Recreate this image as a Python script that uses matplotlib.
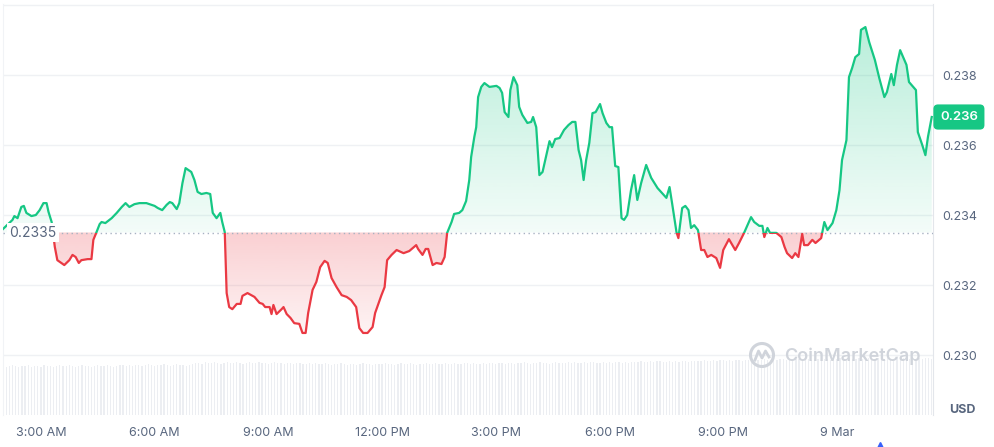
import matplotlib.pyplot as plt
import matplotlib.colors as mcolors
import numpy as np
from matplotlib.lines import Line2D
from matplotlib.patches import Circle, PathPatch, Rectangle
from matplotlib.path import Path
from matplotlib.transforms import IdentityTransform, blended_transform_factory

plt.rcParams['font.family'] = ['Inter', 'DejaVu Sans']

# price, minutes since midnight 8 Mar
minutes = [
    120, 135, 138, 143, 149, 153, 157, 165, 172, 178, 184, 189, 192, 197, 202, 206,
    217, 225, 230, 235, 240, 244, 254, 260, 263, 268, 273, 276, 282, 292, 300, 308,
    314, 320, 328, 336, 347, 355, 360, 365, 372, 379, 384, 388, 395, 399, 404, 409,
    418, 423, 428, 434, 442, 448, 452, 458, 464, 467, 471, 474, 478, 483, 490, 496,
    499, 507, 518, 526, 531, 535, 542, 545, 548, 553, 561, 564, 569, 575, 581, 589,
    594, 599, 603, 610, 616, 622, 629, 634, 640, 648, 656, 664, 671, 679, 684, 690,
    697, 705, 709, 719, 724, 728, 735, 743, 754, 763, 774, 777, 784, 789, 793, 800,
    806, 814, 819, 823, 830, 834, 842, 847, 853, 858, 861, 866, 869, 872, 877, 882,
    890, 901, 906, 910, 914, 920, 923, 928, 934, 937, 942, 950, 956, 959, 964, 969,
    974, 980, 985, 989, 994, 1001, 1008, 1015, 1021, 1026, 1031, 1035, 1039, 1043, 1048, 1053,
    1058, 1065, 1069, 1075, 1080, 1084, 1089, 1094, 1099, 1103, 1108, 1114, 1119, 1124, 1130, 1138,
    1146, 1156, 1163, 1170, 1175, 1179, 1186, 1189, 1195, 1200, 1205, 1209, 1214, 1220, 1225, 1230,
    1235, 1241, 1249, 1255, 1260, 1269, 1279, 1285, 1293, 1304, 1309, 1317, 1322, 1325, 1330, 1334,
    1344, 1352, 1357, 1361, 1369, 1374, 1379, 1385, 1388, 1394, 1401, 1406, 1415, 1420, 1425, 1433,
    1439, 1444, 1448, 1455, 1459, 1464, 1469, 1475, 1478, 1485, 1491, 1500, 1507, 1515, 1519, 1526,
    1530, 1535, 1540, 1550, 1554, 1565, 1568, 1575, 1580, 1584, 1590,
]
prices = [
    0.23360, 0.23386, 0.23397, 0.23391, 0.23423, 0.23426, 0.23406, 0.23397,
    0.23400, 0.23414, 0.23434, 0.23434, 0.23409, 0.23380, 0.23309, 0.23271,
    0.23257, 0.23271, 0.23286, 0.23280, 0.23263, 0.23271, 0.23274, 0.23274,
    0.23329, 0.23351, 0.23374, 0.23380, 0.23377, 0.23391, 0.23406, 0.23423,
    0.23434, 0.23423, 0.23431, 0.23434, 0.23434, 0.23429, 0.23426, 0.23420,
    0.23414, 0.23429, 0.23437, 0.23434, 0.23417, 0.23434, 0.23491, 0.23534,
    0.23523, 0.23500, 0.23466, 0.23460, 0.23463, 0.23460, 0.23406, 0.23391,
    0.23406, 0.23380, 0.23351, 0.23177, 0.23137, 0.23131, 0.23146, 0.23146,
    0.23169, 0.23177, 0.23166, 0.23149, 0.23146, 0.23137, 0.23137, 0.23117,
    0.23143, 0.23117, 0.23131, 0.23137, 0.23117, 0.23106, 0.23091, 0.23089,
    0.23063, 0.23063, 0.23120, 0.23186, 0.23209, 0.23251, 0.23269, 0.23263,
    0.23220, 0.23194, 0.23171, 0.23166, 0.23157, 0.23137, 0.23077, 0.23063,
    0.23063, 0.23080, 0.23120, 0.23171, 0.23194, 0.23271, 0.23286, 0.23300,
    0.23291, 0.23297, 0.23314, 0.23303, 0.23286, 0.23303, 0.23303, 0.23257,
    0.23263, 0.23260, 0.23280, 0.23349, 0.23380, 0.23403, 0.23406, 0.23414,
    0.23440, 0.23500, 0.23566, 0.23623, 0.23651, 0.23737, 0.23766, 0.23777,
    0.23766, 0.23769, 0.23763, 0.23749, 0.23694, 0.23680, 0.23757, 0.23794,
    0.23771, 0.23709, 0.23686, 0.23663, 0.23666, 0.23680, 0.23651, 0.23514,
    0.23523, 0.23571, 0.23611, 0.23594, 0.23617, 0.23620, 0.23643, 0.23657,
    0.23666, 0.23666, 0.23586, 0.23557, 0.23500, 0.23557, 0.23606, 0.23691,
    0.23694, 0.23717, 0.23691, 0.23663, 0.23651, 0.23651, 0.23540, 0.23537,
    0.23391, 0.23386, 0.23400, 0.23471, 0.23514, 0.23443, 0.23491, 0.23543,
    0.23506, 0.23477, 0.23463, 0.23449, 0.23480, 0.23434, 0.23351, 0.23334,
    0.23420, 0.23426, 0.23414, 0.23363, 0.23371, 0.23357, 0.23300, 0.23300,
    0.23280, 0.23286, 0.23277, 0.23249, 0.23300, 0.23331, 0.23300, 0.23320,
    0.23349, 0.23394, 0.23380, 0.23369, 0.23369, 0.23337, 0.23363, 0.23349,
    0.23349, 0.23337, 0.23309, 0.23291, 0.23277, 0.23291, 0.23280, 0.23346,
    0.23314, 0.23314, 0.23329, 0.23320, 0.23334, 0.23380, 0.23357, 0.23377,
    0.23414, 0.23471, 0.23557, 0.23614, 0.23794, 0.23820, 0.23851, 0.23860,
    0.23929, 0.23937, 0.23894, 0.23843, 0.23791, 0.23737, 0.23751, 0.23803,
    0.23771, 0.23829, 0.23871, 0.23829, 0.23780, 0.23757, 0.23637, 0.23600,
    0.23571, 0.23623, 0.23680,
]

# volume bars every 5 minutes starting 120
volumes = [
    49, 48, 49, 50, 49, 48, 49, 49, 50, 48, 49, 49, 48, 50, 49, 49, 48, 49, 50, 49,
    49, 50, 49, 48, 49, 50, 49, 49, 48, 49, 50, 49, 49, 50, 49, 48, 49, 50, 50, 49,
    50, 49, 50, 50, 49, 50, 51, 50, 49, 50, 50, 51, 50, 49, 50, 51, 50, 50, 49, 50,
    51, 52, 52, 51, 53, 52, 52, 53, 52, 51, 52, 53, 52, 52, 53, 52, 51, 52, 53, 52,
    52, 53, 52, 52, 51, 52, 53, 52, 52, 51, 52, 52, 51, 52, 52, 51, 51, 52, 51, 52,
    51, 51, 52, 51, 50, 51, 51, 52, 51, 50, 51, 51, 50, 51, 52, 51, 51, 50, 51, 51,
    51, 52, 51, 51, 50, 51, 52, 51, 51, 52, 51, 50, 51, 51, 52, 51, 51, 52, 51, 51,
    52, 51, 51, 52, 51, 51, 52, 52, 51, 52, 51, 51, 52, 51, 52, 52, 51, 52, 52, 51,
    52, 52, 51, 52, 52, 53, 52, 51, 52, 52, 53, 52, 52, 51, 52, 53, 52, 52, 52, 53,
    52, 53, 52, 52, 53, 52, 53, 53, 52, 52, 53, 52, 53, 52, 53, 53, 52, 53, 52, 53,
    53, 53, 54, 53, 53, 54, 53, 54, 54, 53, 53, 54, 53, 54, 53, 54, 54, 53, 54, 54,
    54, 54, 55, 54, 54, 55, 54, 55, 55, 54, 55, 54, 55, 55, 54, 55, 55, 54, 55, 55,
    55, 56, 55, 55, 56, 55, 56, 56, 55, 56, 55, 56, 56, 55, 56, 56, 55, 56, 56, 55,
    56, 56, 55, 56, 56, 57, 56, 56, 57, 56, 56, 57, 56, 56, 57, 56, 56, 57, 56, 56,
    57, 56, 56, 57, 56, 57, 57, 56, 57, 56, 57, 56, 57, 57, 56,
]
vol_times = np.arange(120, 120 + 5 * len(volumes), 5)

open_price = 0.2335
tick_minutes = [180, 360, 540, 720, 900, 1080, 1260, 1440]
tick_labels = ['3:00 AM', '6:00 AM', '9:00 AM', '12:00 PM', '3:00 PM', '6:00 PM', '9:00 PM', '9 Mar']
price_ticks = [0.230, 0.232, 0.234, 0.236, 0.238, 0.240]
price_labels = ['0.230', '0.232', '0.234', '0.236', '0.238', '']

GREEN = '#16c784'
RED = '#ea3943'
GREY = '#58667e'
X0, X1 = 120, 1592
Y0, Y1 = 0.228286, 0.240029

fig = plt.figure(figsize=(9.94, 4.47), dpi=100)
rect = [3 / 994, 32 / 447, 930 / 994, 411 / 447]
ax = fig.add_axes(rect, zorder=1)
ax_vol = fig.add_axes([rect[0], 32 / 447, rect[2], 60 / 447], zorder=0, sharex=ax)

# volume
ax_vol.bar(vol_times, volumes, width=2.0, color='#eceef2', linewidth=0)
ax_vol.set_ylim(0, 60)
ax_vol.axis('off')

x = np.array(minutes)
y = np.array(prices)


def gradient_fill(where, color, far, a_near, a_far):
    coll = ax.fill_between(x, y, open_price, where=where, interpolate=True,
                           facecolor='none', edgecolor='none')
    path = Path.make_compound_path(*coll.get_paths())
    patch = PathPatch(path, transform=ax.transData, facecolor='none', edgecolor='none')
    ax.add_patch(patch)
    rgba = np.zeros((256, 1, 4))
    rgba[..., :3] = mcolors.to_rgb(color)
    alphas = np.linspace(a_near, a_far, 256)
    lo, hi = sorted([open_price, far])
    rgba[:, 0, 3] = alphas if far > open_price else alphas[::-1]
    im = ax.imshow(rgba, extent=[X0, X1, lo, hi], origin='lower', aspect='auto',
                   zorder=1, interpolation='bilinear')
    im.set_clip_path(patch)


gradient_fill(y >= open_price, GREEN, 0.2394, 0.05, 0.30)
gradient_fill(y <= open_price, RED, 0.2306, 0.24, 0.06)

up = ax.plot(x, y, color=GREEN, lw=1.6, zorder=4, solid_joinstyle='round')[0]
down = ax.plot(x, y, color=RED, lw=1.6, zorder=4, solid_joinstyle='round')[0]
up.set_clip_path(Rectangle((X0, open_price), X1 - X0, 0.02, transform=ax.transData))
down.set_clip_path(Rectangle((X0, open_price - 0.02), X1 - X0, 0.02, transform=ax.transData))

ax.axhline(open_price, color='#a7b1c2', lw=1, ls=(0, (1, 2.5)), zorder=3)
ax.text(130, open_price, '0.2335', ha='left', va='center', fontsize=10, color=GREY,
        bbox=dict(fc='white', ec='none', pad=1.8), zorder=5)

ax.set_xlim(X0, X1)
ax.set_ylim(Y0, Y1)
ax.patch.set_visible(False)

ax.set_yticks(price_ticks)
ax.set_yticklabels(price_labels)
ax.yaxis.tick_right()
ax.grid(axis='y', color='#eff1f4', lw=1)
ax.set_axisbelow(True)
ax.set_xticks(tick_minutes)
ax.set_xticklabels(tick_labels)
ax.tick_params(axis='y', length=0, pad=7, labelsize=9, labelcolor=GREY)
ax.tick_params(axis='x', length=0, pad=9, labelsize=9, labelcolor=GREY)
for s in ['top', 'bottom']:
    ax.spines[s].set_visible(False)
ax.spines['left'].set_color('#f1f3f6')
ax.spines['right'].set_color('#e3e6eb')

# current price badge
badge_tr = blended_transform_factory(ax.transAxes, ax.transData)
ax.text(1.0075, prices[-1], '0.236', transform=badge_tr, ha='left', va='center',
        fontsize=9.5, fontweight='semibold', color='white', clip_on=False, zorder=6,
        bbox=dict(boxstyle='round,pad=0.5,rounding_size=0.35', fc=GREEN, ec='none'))

fig.text(962 / 994, 1 - 410 / 447, 'USD', fontsize=9, fontweight='bold', color=GREY,
         ha='center', va='center')

# watermark
wm = '#d0d4db'
fig.text(852 / 994, 1 - 356 / 447, 'CoinMarketCap', fontsize=13, fontweight='semibold',
         color=wm, ha='center', va='center', zorder=5)
fig.add_artist(Circle((762, 447 - 355), 11.5, transform=IdentityTransform(), fill=False,
                      ec=wm, lw=2.2, zorder=5))
fig.add_artist(Line2D([755, 758.5, 762, 765.5, 769],
                      [447 - 360, 447 - 351, 447 - 358, 447 - 351, 447 - 357],
                      transform=IdentityTransform(), color=wm, lw=2, zorder=5))

fig.add_artist(Line2D([880], [0], marker='^', markersize=7, color='#3861fb',
                      transform=IdentityTransform(), clip_on=False))

fig.savefig('out.png', dpi=100, facecolor='white')
